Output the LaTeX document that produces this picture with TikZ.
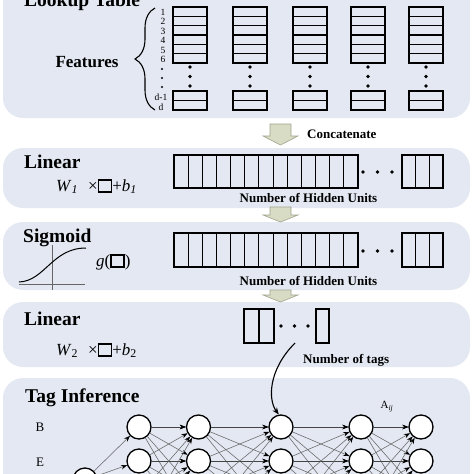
\documentclass[tikz,border=0pt]{standalone}
\usepackage{fontspec}
\setmainfont{Liberation Serif}
\usetikzlibrary{arrows.meta,decorations.pathreplacing}
\definecolor{panel}{HTML}{E3E8F2}
\definecolor{arrfill}{HTML}{D9DCC4}
\definecolor{arrline}{HTML}{A0A48C}
\definecolor{netline}{HTML}{666666}
\definecolor{netdark}{HTML}{444444}
\newcommand{\sqbox}{{\setlength{\fboxrule}{1.5pt}\setlength{\fboxsep}{0pt}\fbox{\rule{0pt}{10.5pt}\rule{11.5pt}{0pt}}}}
\begin{document}
\begin{tikzpicture}[x=1pt,y=-1pt,
  panelbox/.style={fill=panel,rounded corners=20pt},
  title/.style={font=\fontsize{19.5}{20}\selectfont\bfseries,anchor=base west,inner sep=0},
  lab/.style={font=\fontsize{13}{14}\selectfont\bfseries,inner sep=0},
  formula/.style={font=\fontsize{17}{18}\selectfont,anchor=base west,inner sep=0},
  num/.style={font=\fontsize{9.5}{9.5}\selectfont,inner sep=0},
  cell/.style={draw=black,line width=1.1pt},
  blockarrow/.style={fill=arrfill,draw=arrline,line width=0.6pt},
  tagnode/.style={circle,draw=black,fill=white,line width=1.3pt,minimum size=24pt,inner sep=0},
  netedge/.style={draw=netline,line width=0.55pt,-{Stealth[length=6pt,width=4.5pt,black]}},
  netedgeh/.style={draw=netdark,line width=0.8pt,-{Stealth[length=6pt,width=4.5pt,black]}},
]
\useasboundingbox (0,0) rectangle (474,474);
\clip (0,0) rectangle (474,474);
% panels
\fill[panelbox] (3,-40) rectangle (470,118);
\fill[panelbox] (3,148) rectangle (470,208);
\fill[panelbox] (3,222) rectangle (470,290);
\fill[panelbox] (3,302) rectangle (470,367);
\fill[panelbox] (3,378) rectangle (470,520);
% block arrows
\filldraw[blockarrow] (270,124) -- (291,124) -- (291,136) -- (298,136) -- (280.5,145) -- (263,136) -- (270,136) -- cycle;
\filldraw[blockarrow] (270,207) -- (291,207) -- (291,215) -- (298,215) -- (280.5,222) -- (263,215) -- (270,215) -- cycle;
\filldraw[blockarrow] (270,290) -- (291,290) -- (291,295) -- (298,295) -- (280.5,302) -- (263,295) -- (270,295) -- cycle;
% Lookup table
\node[title] (tlookup) at (24,6) {Lookup Table};
\node[font=\fontsize{17}{18}\selectfont\bfseries,anchor=base,inner sep=0] (features) at (87,67) {Features};
\draw[line width=1.1pt,decorate,decoration={brace,amplitude=20pt}] (155,110) -- (155,8);
\foreach \i/\y in {1/12,2/21.5,3/31,4/40.5,5/50,6/59}
  \node[num] (idx\i) at (163,\y) {\i};
\foreach \y in {69,78,87} \fill (162,\y) circle (1.1pt);
\node[num] (idxd1) at (161,97) {d-1};
\node[num] (idxd) at (161,107) {d};
\foreach \x in {173,233,293,351,409}{
  \draw[cell] (\x,7) rectangle (\x+34,63);
  \foreach \k in {1,...,5} \draw[cell] (\x,7+\k*9.33) -- (\x+34,7+\k*9.33);
  \foreach \y in {67,76.5,86} \fill (\x+17,\y) circle (1.8pt);
  \draw[cell] (\x,91) rectangle (\x+34,110);
  \draw[cell] (\x,100.5) -- (\x+34,100.5);
}
\node[lab,anchor=base west] (concat) at (307,138) {Concatenate};
% Linear 1
\node[title] (tlin1) at (24,168) {Linear};
\node[formula] (w1) at (56,191) {\textit{W}\textsubscript{\textit{1}}};
\node[formula] (f1) at (88,191) {×\sqbox+\textit{b}\textsubscript{\textit{1}}};
\foreach \ya/\yb/\yd/\yl in {155/188/172/202, 233/267/251/285}{
  \draw[cell] (174,\ya) rectangle (358,\yb);
  \foreach \k in {1,...,12} \draw[cell] (174+\k*14.154,\ya) -- (174+\k*14.154,\yb);
  \draw[cell] (402,\ya) rectangle (443,\yb);
  \draw[cell] (415.67,\ya) -- (415.67,\yb);
  \draw[cell] (429.33,\ya) -- (429.33,\yb);
  \foreach \x in {363,377.5,392} \fill (\x,\yd) circle (1.8pt);
  \node[lab,anchor=base] at (308.5,\yl) {Number of Hidden Units};
}
% Sigmoid
\node[title] (tsig) at (23,242) {Sigmoid};
\draw[line width=0.6pt,black!60] (19,284) -- (85,284);
\draw[line width=0.6pt,black!60] (52,245) -- (52,290);
\draw[line width=1pt] (19,282) .. controls (45,281) and (52,248) .. (86,248);
\node[formula] (g) at (96,266) {\textit{g}(\sqbox)};
% Linear 2
\node[title] (tlin2) at (24,325) {Linear};
\node[formula] (w2) at (56,355) {\textit{W}\textsubscript{2}};
\node[formula] (f2) at (88,355) {×\sqbox+\textit{b}\textsubscript{2}};
\draw[cell] (244,309) rectangle (274,343);
\draw[cell] (259,309) -- (259,343);
\draw[cell] (316,309) rectangle (329,343);
\foreach \x in {281,294.5,308} \fill (\x,326) circle (1.8pt);
\coordinate (cs) at (295,343);
\node[lab,anchor=base west] (ntags) at (303,363) {Number of tags};
% Tag inference
\node[title] (ttag) at (25,402) {Tag Inference};
\node[font=\fontsize{13}{14}\selectfont,inner sep=0] (lb) at (40,427) {B};
\node[font=\fontsize{13}{14}\selectfont,inner sep=0] (le) at (40,462) {E};
\node[font=\fontsize{11}{12}\selectfont,inner sep=0] (aij) at (387,407) {A\textsubscript{\textit{ij}}};
\foreach \c/\x in {1/139,2/198.5,3/281,4/361,5/421}
  \foreach \r/\y in {1/427,2/461,3/495,4/529}
    \node[tagnode] (n\c\r) at (\x,\y) {};
\node[tagnode] (s) at (85,480) {};
\foreach \r in {1,...,4} \draw[netedge] (s) -- (n1\r);
\foreach \c/\d in {1/2,2/3,3/4,4/5}{
  \foreach \r in {1,...,4}{
    \foreach \q in {1,...,4} \draw[netedge] (n\c\r) -- (n\d\q);
    \draw[netedgeh] (n\c\r) -- (n\d\r);
  }
}
\draw[line width=1.1pt,-{Stealth[length=7pt,width=5.5pt]}] (cs) .. controls (268,370) and (268,400) .. (n31.100);
\end{tikzpicture}
\end{document}
